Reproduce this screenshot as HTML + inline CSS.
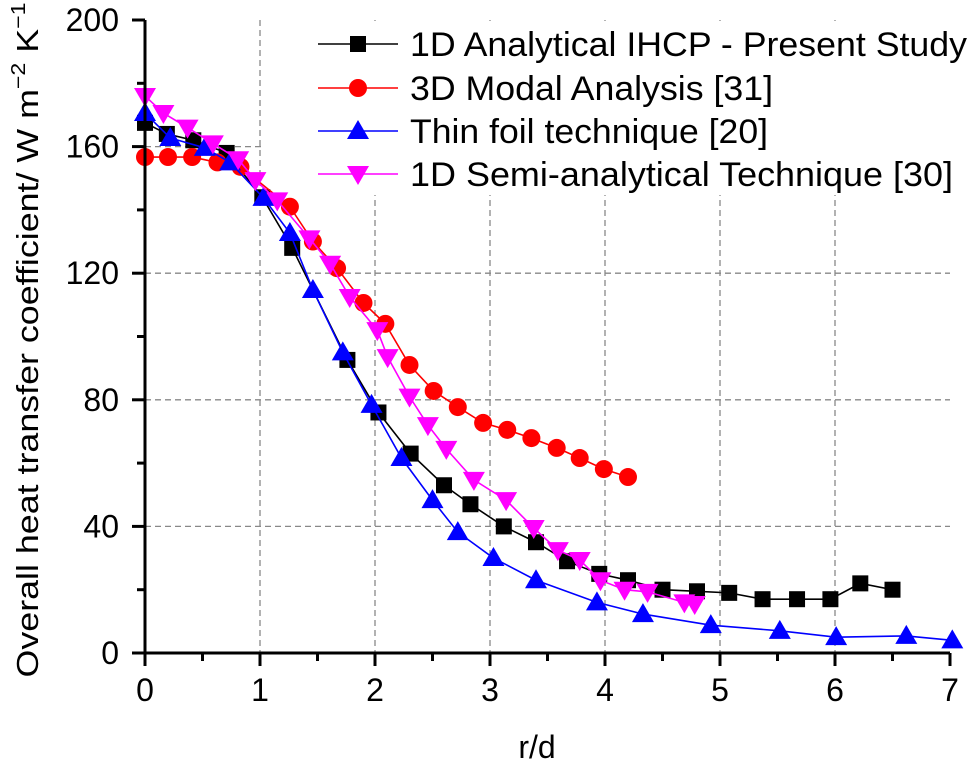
<!DOCTYPE html>
<html><head><meta charset="utf-8">
<style>
html,body{margin:0;padding:0;background:#fff;}
svg{display:block;font-family:"Liberation Sans",Arial,sans-serif;}
</style></head>
<body>
<svg id="chart" width="969" height="774" viewBox="0 0 969 774">
<g id="grid"></g>
<g id="series"></g>
<g id="axes"></g>
<g id="legend"></g>
<text x="537" y="758" text-anchor="middle" font-size="32">r/d</text>
<text transform="translate(38,340) rotate(-90)" text-anchor="middle" font-size="31" textLength="675" lengthAdjust="spacingAndGlyphs">Overall heat transfer coefficient/ W m<tspan dy="-13" font-size="20">−2</tspan><tspan dy="13"> K</tspan><tspan dy="-13" font-size="20">−1</tspan></text>
</svg>
<script>
const xTicks = [0,1,2,3,4,5,6,7];
const yTicks = [0,40,80,120,160,200];
const blackX = [0,0.19,0.42,0.71,1.02,1.28,1.76,2.03,2.31,2.6,2.83,3.12,3.4,3.67,3.95,4.2,4.5,4.8,5.08,5.37,5.67,5.96,6.22,6.5];
const blackY = [167.5,164,162,158,144,128,92.6,76,63,53,47,40,35,29,25,23,20,19.5,19,17,17,17,22,20];
const redX = [0,0.2,0.41,0.63,0.83,1.26,1.46,1.67,1.9,2.09,2.3,2.51,2.72,2.94,3.15,3.36,3.58,3.78,3.99,4.2];
const redY = [156.7,156.7,156.7,155,153.6,141,130,121.6,110.6,104,91,82.8,77.7,72.7,70.5,67.9,64.8,61.6,58.1,55.6];
const blueX = [0,0.22,0.52,0.74,1.03,1.26,1.46,1.72,1.97,2.23,2.5,2.72,3.03,3.4,3.93,4.33,4.92,5.52,6.01,6.62,7.02];
const blueY = [170.6,162.7,159.6,155,143.8,132.7,114.7,95,78.4,61.6,48.3,38.2,30,23,16,12.3,8.8,7,5,5.4,4];
const magX = [0,0.16,0.37,0.59,0.81,0.96,1.15,1.43,1.61,1.78,2.02,2.11,2.3,2.46,2.62,2.86,3.14,3.38,3.59,3.78,3.96,4.17,4.37,4.69,4.78];
const magY = [176,170.6,166,161,156,149.4,143,131,123,112.5,102,93.5,81,72,64.5,54.7,48.3,39.5,32.5,29.4,23,20,19.3,16,15.5];

const NS='http://www.w3.org/2000/svg';
const X0=145, XS=115, Y0=653, YS=633/200;
const sx=v=>X0+v*XS, sy=v=>Y0-v*YS;
function mk(tag,attrs,parent){const e=document.createElementNS(NS,tag);for(const k in attrs)e.setAttribute(k,attrs[k]);parent.appendChild(e);return e;}
const grid=document.getElementById('grid'),series=document.getElementById('series'),axes=document.getElementById('axes'),legend=document.getElementById('legend');

for(const t of xTicks){ if(t===0||t===7) continue;
  const l=mk('line',{x1:sx(t),x2:sx(t),y1:sy(200),y2:Y0,stroke:'#888','stroke-width':1.3,'stroke-dasharray':'6,4'},grid);
  
  
}
for(const t of yTicks){ if(t===0||t===200) continue;
  const l=mk('line',{x1:X0,x2:sx(7),y1:sy(t),y2:sy(t),stroke:'#888','stroke-width':1.3,'stroke-dasharray':'6,4'},grid);
  
  
}
const lb=mk('rect',{x:262,y:21,width:707,height:174,fill:'#fff'},grid);



function marker(type,cx,cy,color,parent){
  let e;
  if(type==='square') e=mk('rect',{x:cx-8,y:cy-8,width:16,height:16,fill:color},parent);
  else if(type==='circle') e=mk('circle',{cx:cx,cy:cy,r:9,fill:color},parent);
  else if(type==='up') e=mk('polygon',{points:`${cx},${cy-11} ${cx-11},${cy+8} ${cx+11},${cy+8}`,fill:color},parent);
  else e=mk('polygon',{points:`${cx},${cy+11} ${cx-11},${cy-8} ${cx+11},${cy-8}`,fill:color},parent);
  return e;
}
const defs=[
  {name:'present-study',xs:blackX,ys:blackY,color:'#000',m:'square',label:'1D Analytical IHCP - Present Study',w:557},
  {name:'modal-analysis',xs:redX,ys:redY,color:'#ff0000',m:'circle',label:'3D Modal Analysis [31]',w:363},
  {name:'thin-foil',xs:blueX,ys:blueY,color:'#0000ff',m:'up',label:'Thin foil technique [20]',w:358},
  {name:'semi-analytical',xs:magX,ys:magY,color:'#ff00ff',m:'down',label:'1D Semi-analytical Technique [30]',w:543}
];
defs.forEach((d,i)=>{
  const g=mk('g',{},series);
  
  
  const pl=mk('polyline',{points:d.xs.map((x,j)=>sx(x)+','+sy(d.ys[j])).join(' '),fill:'none',stroke:d.color,'stroke-width':1.6},g);
  
  
  d.xs.forEach((x,j)=>{
    const p=marker(d.m,sx(x),sy(d.ys[j]),d.color,g);
    
    
  });
  const ly=[44,88,131,174][i];
  const lg=mk('g',{},legend);
  
  
  mk('line',{x1:318,x2:398,y1:ly,y2:ly,stroke:d.color,'stroke-width':1.6},lg);
  marker(d.m,358,ly,d.color,lg);
  const t=mk('text',{x:410,y:ly+12,'font-size':34,fill:'#000',textLength:d.w,lengthAdjust:'spacingAndGlyphs'},lg);
  t.textContent=d.label;
});

const ax=mk('path',{d:`M${X0},${sy(200)} V${Y0} H${sx(7)}`,fill:'none',stroke:'#000','stroke-width':3},axes);


for(const t of xTicks){
  const l=mk('line',{x1:sx(t),x2:sx(t),y1:Y0,y2:Y0+13,stroke:'#000','stroke-width':3},axes);
  
  
  const tx=mk('text',{x:sx(t),y:Y0+48,'text-anchor':'middle','font-size':32},axes);
  
  
  tx.textContent=t;
  if(t<7){
    const m=mk('line',{x1:sx(t+0.5),x2:sx(t+0.5),y1:Y0,y2:Y0+8,stroke:'#000','stroke-width':3},axes);
    
    
  }
}
for(const t of yTicks){
  const l=mk('line',{x1:X0-13,x2:X0,y1:sy(t),y2:sy(t),stroke:'#000','stroke-width':3},axes);
  
  
  const tx=mk('text',{x:X0-26,y:sy(t)+11,'text-anchor':'end','font-size':32},axes);
  
  
  tx.textContent=t;
  if(t<200){
    const m=mk('line',{x1:X0-8,x2:X0,y1:sy(t+20),y2:sy(t+20),stroke:'#000','stroke-width':3},axes);
    
    
  }
}
</script>
</body></html>
